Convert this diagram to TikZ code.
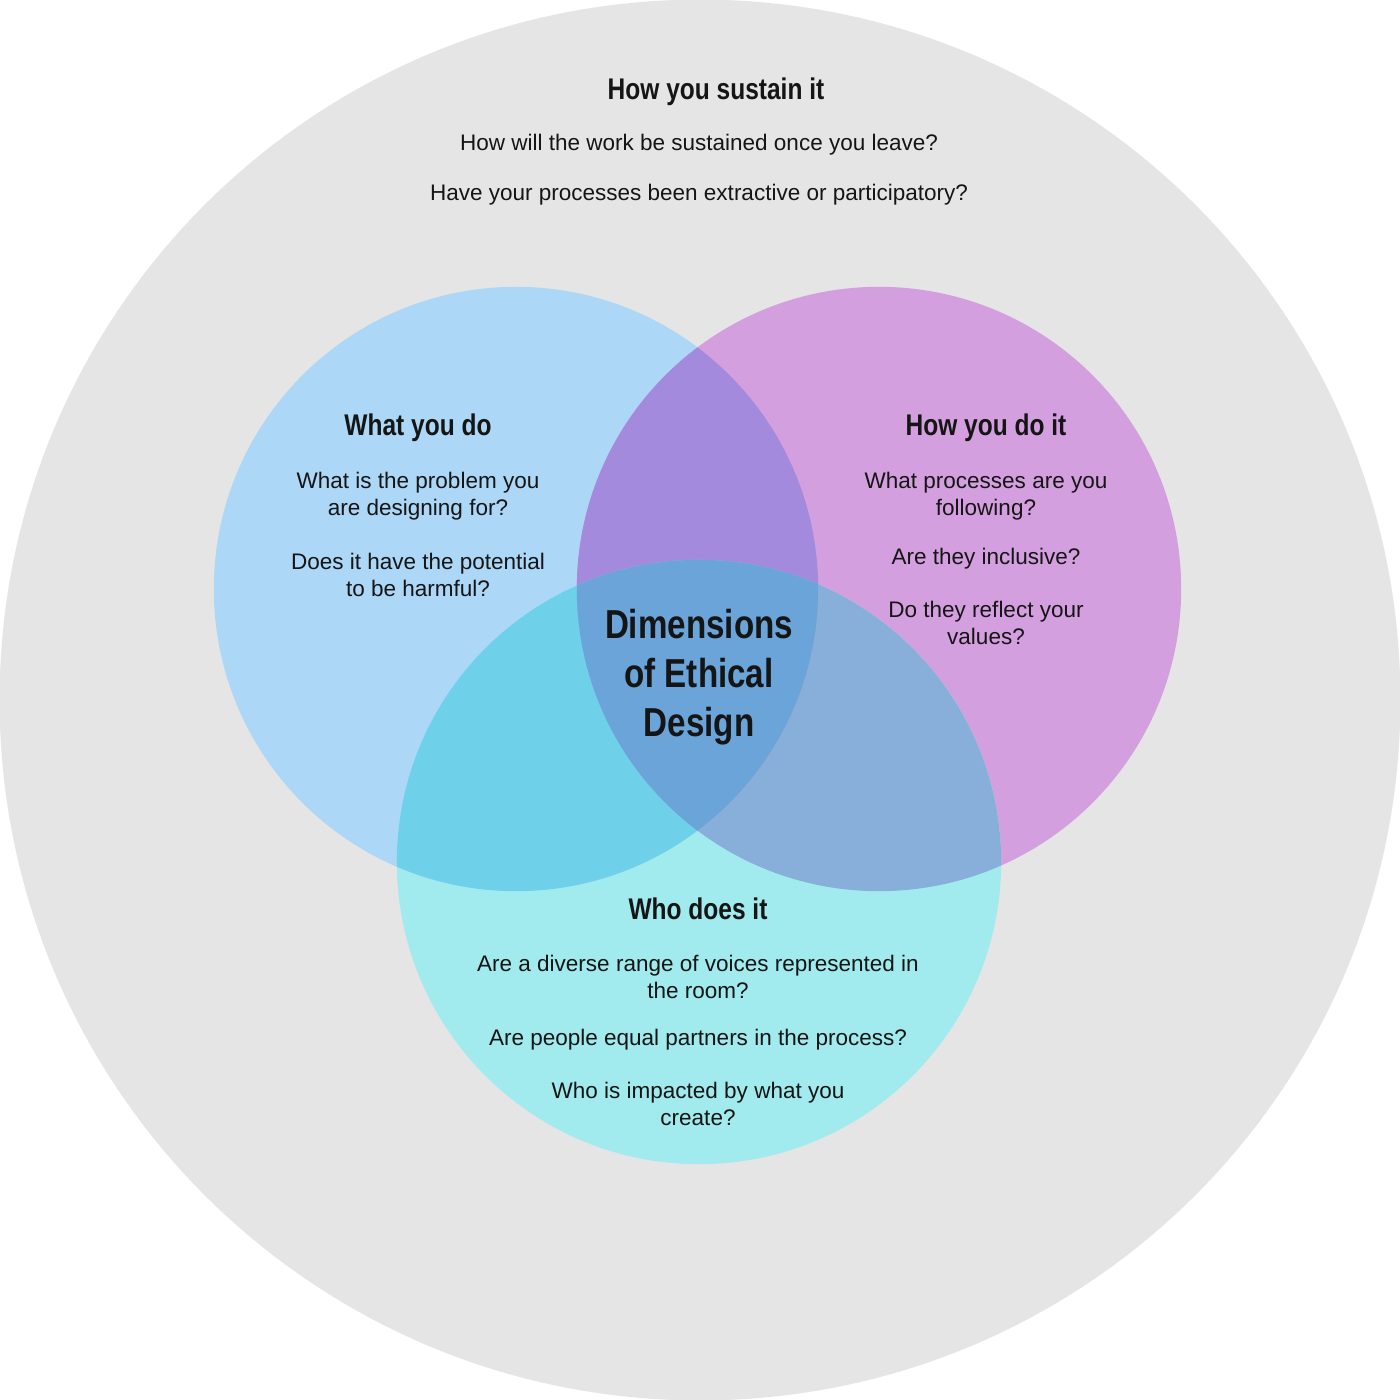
\documentclass[tikz,border=0pt]{standalone}
\usepackage{fontspec}
\setmainfont{Liberation Sans}
\newfontfamily\headfont[FakeStretch=0.82]{Liberation Sans}
\usetikzlibrary{positioning}
\definecolor{ringgray}{HTML}{E5E5E5}
\definecolor{doblue}{HTML}{ACD7F6}
\definecolor{howpink}{HTML}{D49FDF}
\definecolor{whocyan}{HTML}{A1EBEE}
\definecolor{bluepink}{HTML}{A48ADC}
\definecolor{bluecyan}{HTML}{6FD0E9}
\definecolor{pinkcyan}{HTML}{88AFD9}
\definecolor{allthree}{HTML}{6BA4D9}
\definecolor{inkblack}{HTML}{151515}

\begin{document}
\begin{tikzpicture}[x=0.01cm,y=-0.01cm,
    question/.style={align=center,inner sep=0pt,text=inkblack,
      font=\fontsize{6.4}{7.7}\selectfont},
    heading/.style={inner sep=0pt,text=inkblack,
      font=\headfont\bfseries\fontsize{8.5}{10}\selectfont},
    core/.style={align=center,inner sep=0pt,text=inkblack,
      font=\headfont\bfseries\fontsize{11.5}{14}\selectfont}]
    \useasboundingbox[fill=white] (0,0) rectangle (1400,1400);
    % outer ring and the three circles
    \fill[ringgray] (700,700) circle[radius=7cm];
    \coordinate (cdo) at (516,589);
    \coordinate (chow) at (879,589);
    \coordinate (cwho) at (699,862);
    \fill[doblue] (cdo) circle[radius=3.02cm];
    \fill[howpink] (chow) circle[radius=3.02cm];
    \fill[whocyan] (cwho) circle[radius=3.02cm];
    % overlaps
    \begin{scope}
      \clip (cdo) circle[radius=3.02cm];
      \fill[bluepink] (chow) circle[radius=3.02cm];
      \fill[bluecyan] (cwho) circle[radius=3.02cm];
    \end{scope}
    \begin{scope}
      \clip (chow) circle[radius=3.02cm];
      \fill[pinkcyan] (cwho) circle[radius=3.02cm];
      \clip (cdo) circle[radius=3.02cm];
      \fill[allthree] (cwho) circle[radius=3.02cm];
    \end{scope}
    % texts
    \node[heading] (sustain) at (716,92) {How you sustain it};
    \node[question] (sustainA) at (699,145) {How will the work be sustained once you leave?};
    \node[question] (sustainB) at (699,195) {Have your processes been extractive or participatory?};
    \node[heading] (what) at (418,428) {What you do};
    \node[question] (whatA) at (418,496) {What is the problem you\\are designing for?};
    \node[question] (whatB) at (418,575) {Does it have the potential\\to be harmful?};
    \node[heading] (how) at (986,428) {How you do it};
    \node[question] (howA) at (986,496) {What processes are you\\following?};
    \node[question] (howB) at (986,559) {Are they inclusive?};
    \node[question] (howC) at (986,623) {Do they reflect your\\values?};
    \node[core] (dims) at (699,677) {Dimensions\\of Ethical\\Design};
    \node[heading] (who) at (698,909) {Who does it};
    \node[question] (whoA) at (698,977) {Are a diverse range of voices represented in\\the room?};
    \node[question] (whoB) at (698,1040) {Are people equal partners in the process?};
    \node[question] (whoC) at (698,1104) {Who is impacted by what you\\create?};
\end{tikzpicture}
\end{document}
